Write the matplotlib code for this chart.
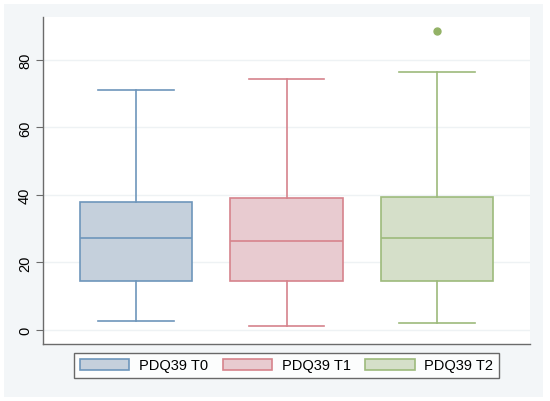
import matplotlib
matplotlib.use("Agg")
import matplotlib.pyplot as plt
from matplotlib.patches import Patch, Rectangle

plt.rcParams['font.family'] = ['Liberation Sans', 'DejaVu Sans']

# box summaries
labels = ['PDQ39 T0', 'PDQ39 T1', 'PDQ39 T2']
whislo = [2.6, 1.3, 2.1]
q1 = [14.6, 14.6, 14.5]
med = [27.2, 26.5, 27.3]
q3 = [38.0, 39.1, 39.4]
whishi = [71.1, 74.2, 76.5]
fliers = [[], [], [88.5]]

fills = ['#c5d0dc', '#e8cbd0', '#d5dfc9']
edges = ['#6e96bb', '#d6838c', '#9dba7c']

fig = plt.figure(figsize=(5.5, 4.02), dpi=100, facecolor='white')
# light outer panel like stata graph region
fig.patches.append(Rectangle((4 / 550, 1 - 398 / 402), 539 / 550, 393 / 402,
                             transform=fig.transFigure, facecolor='#f3f6f8',
                             edgecolor='none', zorder=-5))

ax = fig.add_axes([43 / 550, 1 - 345 / 402, 487 / 550, 327 / 402])
ax.set_facecolor('white')

for i in range(3):
    st = [dict(label=labels[i], whislo=whislo[i], q1=q1[i], med=med[i],
               q3=q3[i], whishi=whishi[i], fliers=fliers[i])]
    c = edges[i]
    ax.bxp(st, positions=[i + 1], widths=0.745, patch_artist=True,
           boxprops=dict(facecolor=fills[i], edgecolor=c, linewidth=1.2),
           medianprops=dict(color=c, linewidth=1.2),
           whiskerprops=dict(color=c, linewidth=1.2),
           capprops=dict(color=c, linewidth=1.2),
           flierprops=dict(marker='o', markerfacecolor='#93b266',
                           markeredgecolor='#93b266', markersize=5),
           capwidths=0.505, manage_ticks=False)

ax.set_xlim(0.382, 3.618)
ax.set_ylim(-4.15, 92.7)
ax.set_yticks([0, 20, 40, 60, 80])
ax.set_xticks([])
ax.grid(axis='y', color='#eef2f4', linewidth=1.0)
ax.set_axisbelow(True)
for s in ['top', 'right']:
    ax.spines[s].set_visible(False)
for s in ['left', 'bottom']:
    ax.spines[s].set_color('#6b6b6b')
    ax.spines[s].set_linewidth(1.0)
ax.tick_params(axis='y', length=5, color='#6b6b6b', labelsize=10.5,
               labelrotation=90, pad=3)
for t in ax.get_yticklabels():
    t.set_va('center')

handles = [Patch(facecolor=fills[i], edgecolor=edges[i], linewidth=1.2)
           for i in range(3)]
leg = fig.legend(handles, labels, loc='center', ncol=3,
                 bbox_to_anchor=(286.5 / 550, 1 - 366.5 / 402),
                 fontsize=10.5, frameon=True, fancybox=False,
                 handlelength=3.4, handleheight=0.85, handletextpad=0.65,
                 columnspacing=1.0, borderpad=0.4)
leg.get_frame().set_edgecolor('#444444')
leg.get_frame().set_linewidth(1.0)

fig.savefig('out.png', dpi=100, facecolor='white')
